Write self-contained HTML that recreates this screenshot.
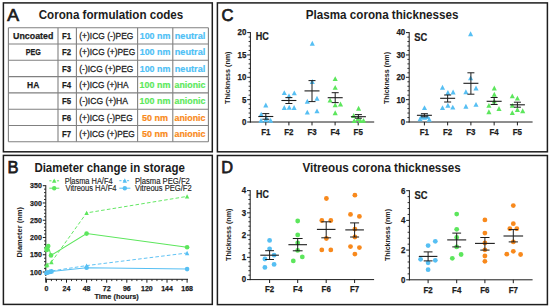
<!DOCTYPE html>
<html><head><meta charset="utf-8"><title>Figure</title>
<style>
html,body{margin:0;padding:0;background:#fff;}
body{width:550px;height:307px;overflow:hidden;}
svg{display:block;font-family:"Liberation Sans",sans-serif;}
</style></head>
<body>
<svg width="550" height="307" viewBox="0 0 550 307">
<rect x="0" y="0" width="550" height="307" fill="#ffffff"/>
<rect x="3.40" y="2.90" width="208.90" height="148.90" fill="none" stroke="#1e1e1e" stroke-width="1.5"/>
<rect x="217.40" y="2.90" width="330.00" height="148.90" fill="none" stroke="#1e1e1e" stroke-width="1.5"/>
<rect x="3.40" y="155.40" width="208.90" height="149.00" fill="none" stroke="#1e1e1e" stroke-width="1.5"/>
<rect x="217.40" y="155.50" width="330.00" height="149.10" fill="none" stroke="#1e1e1e" stroke-width="1.5"/>
<text x="7.20" y="20.80" font-size="16.8" font-weight="normal" text-anchor="start" fill="#1c1c1c" textLength="11.80" lengthAdjust="spacingAndGlyphs" stroke="#1c1c1c" stroke-width="0.7">A</text>
<text x="7.60" y="173.20" font-size="16.8" font-weight="normal" text-anchor="start" fill="#1c1c1c" textLength="11.00" lengthAdjust="spacingAndGlyphs" stroke="#1c1c1c" stroke-width="0.75">B</text>
<text x="221.40" y="20.60" font-size="16.8" font-weight="normal" text-anchor="start" fill="#1c1c1c" textLength="12.00" lengthAdjust="spacingAndGlyphs" stroke="#1c1c1c" stroke-width="0.75">C</text>
<text x="221.20" y="173.20" font-size="16.8" font-weight="normal" text-anchor="start" fill="#1c1c1c" textLength="11.80" lengthAdjust="spacingAndGlyphs" stroke="#1c1c1c" stroke-width="0.75">D</text>
<text x="38.70" y="19.00" font-size="12.3" font-weight="bold" text-anchor="start" fill="#1c1c1c" textLength="144.60" lengthAdjust="spacingAndGlyphs">Corona formulation codes</text>
<text x="305.80" y="18.60" font-size="12.3" font-weight="bold" text-anchor="start" fill="#1c1c1c" textLength="152.70" lengthAdjust="spacingAndGlyphs">Plasma corona thicknesses</text>
<text x="34.40" y="171.70" font-size="12.3" font-weight="bold" text-anchor="start" fill="#1c1c1c" textLength="150.40" lengthAdjust="spacingAndGlyphs">Diameter change in storage</text>
<text x="302.40" y="171.90" font-size="12.3" font-weight="bold" text-anchor="start" fill="#1c1c1c" textLength="158.40" lengthAdjust="spacingAndGlyphs">Vitreous corona thicknesses</text>
<line x1="8.40" y1="27.70" x2="208.40" y2="27.70" stroke="#808080" stroke-width="1.1"/>
<line x1="8.40" y1="44.00" x2="208.40" y2="44.00" stroke="#808080" stroke-width="1.1"/>
<line x1="8.40" y1="60.30" x2="208.40" y2="60.30" stroke="#808080" stroke-width="1.1"/>
<line x1="8.40" y1="76.60" x2="208.40" y2="76.60" stroke="#808080" stroke-width="1.1"/>
<line x1="8.40" y1="92.90" x2="208.40" y2="92.90" stroke="#808080" stroke-width="1.1"/>
<line x1="8.40" y1="109.20" x2="208.40" y2="109.20" stroke="#808080" stroke-width="1.1"/>
<line x1="8.40" y1="125.50" x2="208.40" y2="125.50" stroke="#808080" stroke-width="1.1"/>
<line x1="8.40" y1="141.80" x2="208.40" y2="141.80" stroke="#808080" stroke-width="1.1"/>
<line x1="8.40" y1="27.70" x2="8.40" y2="141.80" stroke="#808080" stroke-width="1.1"/>
<line x1="58.00" y1="27.70" x2="58.00" y2="141.80" stroke="#808080" stroke-width="1.1"/>
<line x1="76.40" y1="27.70" x2="76.40" y2="141.80" stroke="#808080" stroke-width="1.1"/>
<line x1="137.60" y1="27.70" x2="137.60" y2="141.80" stroke="#808080" stroke-width="1.1"/>
<line x1="172.80" y1="27.70" x2="172.80" y2="141.80" stroke="#808080" stroke-width="1.1"/>
<line x1="208.40" y1="27.70" x2="208.40" y2="141.80" stroke="#808080" stroke-width="1.1"/>
<text x="13.10" y="39.10" font-size="9.8" font-weight="bold" text-anchor="start" fill="#1c1c1c" textLength="40.20" lengthAdjust="spacingAndGlyphs" stroke="#1c1c1c" stroke-width="0.25">Uncoated</text>
<text x="62.00" y="39.10" font-size="9.8" font-weight="bold" text-anchor="start" fill="#1c1c1c" textLength="9.10" lengthAdjust="spacingAndGlyphs" stroke="#1c1c1c" stroke-width="0.25">F1</text>
<text x="79.30" y="39.10" font-size="9.8" font-weight="normal" text-anchor="start" fill="#1c1c1c" textLength="54.10" lengthAdjust="spacingAndGlyphs" stroke="#1c1c1c" stroke-width="0.3">(+)ICG (-)PEG</text>
<text x="139.70" y="39.10" font-size="9.8" font-weight="bold" text-anchor="start" fill="#4ec1f6" textLength="30.60" lengthAdjust="spacingAndGlyphs" stroke="#4ec1f6" stroke-width="0.2">100 nm</text>
<text x="174.70" y="39.10" font-size="9.8" font-weight="bold" text-anchor="start" fill="#4ec1f6" textLength="30.60" lengthAdjust="spacingAndGlyphs" stroke="#4ec1f6" stroke-width="0.2">neutral</text>
<text x="25.65" y="55.40" font-size="9.8" font-weight="bold" text-anchor="start" fill="#1c1c1c" textLength="15.10" lengthAdjust="spacingAndGlyphs" stroke="#1c1c1c" stroke-width="0.25">PEG</text>
<text x="62.00" y="55.40" font-size="9.8" font-weight="bold" text-anchor="start" fill="#1c1c1c" textLength="9.10" lengthAdjust="spacingAndGlyphs" stroke="#1c1c1c" stroke-width="0.25">F2</text>
<text x="79.30" y="55.40" font-size="9.8" font-weight="normal" text-anchor="start" fill="#1c1c1c" textLength="55.90" lengthAdjust="spacingAndGlyphs" stroke="#1c1c1c" stroke-width="0.3">(+)ICG (+)PEG</text>
<text x="139.70" y="55.40" font-size="9.8" font-weight="bold" text-anchor="start" fill="#4ec1f6" textLength="30.60" lengthAdjust="spacingAndGlyphs" stroke="#4ec1f6" stroke-width="0.2">100 nm</text>
<text x="174.70" y="55.40" font-size="9.8" font-weight="bold" text-anchor="start" fill="#4ec1f6" textLength="30.60" lengthAdjust="spacingAndGlyphs" stroke="#4ec1f6" stroke-width="0.2">neutral</text>
<text x="62.00" y="71.70" font-size="9.8" font-weight="bold" text-anchor="start" fill="#1c1c1c" textLength="9.10" lengthAdjust="spacingAndGlyphs" stroke="#1c1c1c" stroke-width="0.25">F3</text>
<text x="79.30" y="71.70" font-size="9.8" font-weight="normal" text-anchor="start" fill="#1c1c1c" textLength="54.10" lengthAdjust="spacingAndGlyphs" stroke="#1c1c1c" stroke-width="0.3">(-)ICG (+)PEG</text>
<text x="139.70" y="71.70" font-size="9.8" font-weight="bold" text-anchor="start" fill="#4ec1f6" textLength="30.60" lengthAdjust="spacingAndGlyphs" stroke="#4ec1f6" stroke-width="0.2">100 nm</text>
<text x="174.70" y="71.70" font-size="9.8" font-weight="bold" text-anchor="start" fill="#4ec1f6" textLength="30.60" lengthAdjust="spacingAndGlyphs" stroke="#4ec1f6" stroke-width="0.2">neutral</text>
<text x="27.10" y="88.00" font-size="9.8" font-weight="bold" text-anchor="start" fill="#1c1c1c" textLength="12.20" lengthAdjust="spacingAndGlyphs" stroke="#1c1c1c" stroke-width="0.25">HA</text>
<text x="62.00" y="88.00" font-size="9.8" font-weight="bold" text-anchor="start" fill="#1c1c1c" textLength="9.10" lengthAdjust="spacingAndGlyphs" stroke="#1c1c1c" stroke-width="0.25">F4</text>
<text x="79.30" y="88.00" font-size="9.8" font-weight="normal" text-anchor="start" fill="#1c1c1c" textLength="49.30" lengthAdjust="spacingAndGlyphs" stroke="#1c1c1c" stroke-width="0.3">(+)ICG (+)HA</text>
<text x="139.60" y="88.00" font-size="9.8" font-weight="bold" text-anchor="start" fill="#5ce95c" textLength="30.80" lengthAdjust="spacingAndGlyphs" stroke="#5ce95c" stroke-width="0.2">100 nm</text>
<text x="174.60" y="88.00" font-size="9.8" font-weight="bold" text-anchor="start" fill="#5ce95c" textLength="30.80" lengthAdjust="spacingAndGlyphs" stroke="#5ce95c" stroke-width="0.2">anionic</text>
<text x="62.00" y="104.30" font-size="9.8" font-weight="bold" text-anchor="start" fill="#1c1c1c" textLength="9.10" lengthAdjust="spacingAndGlyphs" stroke="#1c1c1c" stroke-width="0.25">F5</text>
<text x="79.30" y="104.30" font-size="9.8" font-weight="normal" text-anchor="start" fill="#1c1c1c" textLength="48.70" lengthAdjust="spacingAndGlyphs" stroke="#1c1c1c" stroke-width="0.3">(-)ICG (+)HA</text>
<text x="139.60" y="104.30" font-size="9.8" font-weight="bold" text-anchor="start" fill="#5ce95c" textLength="30.80" lengthAdjust="spacingAndGlyphs" stroke="#5ce95c" stroke-width="0.2">100 nm</text>
<text x="174.60" y="104.30" font-size="9.8" font-weight="bold" text-anchor="start" fill="#5ce95c" textLength="30.80" lengthAdjust="spacingAndGlyphs" stroke="#5ce95c" stroke-width="0.2">anionic</text>
<text x="62.00" y="120.60" font-size="9.8" font-weight="bold" text-anchor="start" fill="#1c1c1c" textLength="9.10" lengthAdjust="spacingAndGlyphs" stroke="#1c1c1c" stroke-width="0.25">F6</text>
<text x="79.30" y="120.60" font-size="9.8" font-weight="normal" text-anchor="start" fill="#1c1c1c" textLength="53.30" lengthAdjust="spacingAndGlyphs" stroke="#1c1c1c" stroke-width="0.3">(+)ICG (-)PEG</text>
<text x="141.95" y="120.60" font-size="9.8" font-weight="bold" text-anchor="start" fill="#f98a1a" textLength="26.10" lengthAdjust="spacingAndGlyphs" stroke="#f98a1a" stroke-width="0.2">50 nm</text>
<text x="174.50" y="120.60" font-size="9.8" font-weight="bold" text-anchor="start" fill="#f98a1a" textLength="31.00" lengthAdjust="spacingAndGlyphs" stroke="#f98a1a" stroke-width="0.2">anionic</text>
<text x="62.00" y="136.90" font-size="9.8" font-weight="bold" text-anchor="start" fill="#1c1c1c" textLength="9.10" lengthAdjust="spacingAndGlyphs" stroke="#1c1c1c" stroke-width="0.25">F7</text>
<text x="79.30" y="136.90" font-size="9.8" font-weight="normal" text-anchor="start" fill="#1c1c1c" textLength="55.40" lengthAdjust="spacingAndGlyphs" stroke="#1c1c1c" stroke-width="0.3">(+)ICG (+)PEG</text>
<text x="141.95" y="136.90" font-size="9.8" font-weight="bold" text-anchor="start" fill="#f98a1a" textLength="26.10" lengthAdjust="spacingAndGlyphs" stroke="#f98a1a" stroke-width="0.2">50 nm</text>
<text x="174.50" y="136.90" font-size="9.8" font-weight="bold" text-anchor="start" fill="#f98a1a" textLength="31.00" lengthAdjust="spacingAndGlyphs" stroke="#f98a1a" stroke-width="0.2">anionic</text>
<line x1="250.40" y1="32.10" x2="250.40" y2="122.50" stroke="#1c1c1c" stroke-width="1.0"/>
<line x1="247.20" y1="122.00" x2="250.40" y2="122.00" stroke="#1c1c1c" stroke-width="1.0"/>
<text x="246.40" y="124.85" font-size="8.37" font-weight="bold" text-anchor="end" fill="#1c1c1c" textLength="4.39" lengthAdjust="spacingAndGlyphs" stroke="#1c1c1c" stroke-width="0.25">0</text>
<line x1="248.60" y1="117.53" x2="250.40" y2="117.53" stroke="#1c1c1c" stroke-width="0.9"/>
<line x1="248.60" y1="113.06" x2="250.40" y2="113.06" stroke="#1c1c1c" stroke-width="0.9"/>
<line x1="248.60" y1="108.59" x2="250.40" y2="108.59" stroke="#1c1c1c" stroke-width="0.9"/>
<line x1="248.60" y1="104.12" x2="250.40" y2="104.12" stroke="#1c1c1c" stroke-width="0.9"/>
<line x1="247.20" y1="99.65" x2="250.40" y2="99.65" stroke="#1c1c1c" stroke-width="1.0"/>
<text x="246.40" y="102.50" font-size="8.37" font-weight="bold" text-anchor="end" fill="#1c1c1c" textLength="4.39" lengthAdjust="spacingAndGlyphs" stroke="#1c1c1c" stroke-width="0.25">5</text>
<line x1="248.60" y1="95.18" x2="250.40" y2="95.18" stroke="#1c1c1c" stroke-width="0.9"/>
<line x1="248.60" y1="90.71" x2="250.40" y2="90.71" stroke="#1c1c1c" stroke-width="0.9"/>
<line x1="248.60" y1="86.24" x2="250.40" y2="86.24" stroke="#1c1c1c" stroke-width="0.9"/>
<line x1="248.60" y1="81.77" x2="250.40" y2="81.77" stroke="#1c1c1c" stroke-width="0.9"/>
<line x1="247.20" y1="77.30" x2="250.40" y2="77.30" stroke="#1c1c1c" stroke-width="1.0"/>
<text x="246.40" y="80.15" font-size="8.37" font-weight="bold" text-anchor="end" fill="#1c1c1c" textLength="8.79" lengthAdjust="spacingAndGlyphs" stroke="#1c1c1c" stroke-width="0.25">10</text>
<line x1="248.60" y1="72.83" x2="250.40" y2="72.83" stroke="#1c1c1c" stroke-width="0.9"/>
<line x1="248.60" y1="68.36" x2="250.40" y2="68.36" stroke="#1c1c1c" stroke-width="0.9"/>
<line x1="248.60" y1="63.89" x2="250.40" y2="63.89" stroke="#1c1c1c" stroke-width="0.9"/>
<line x1="248.60" y1="59.42" x2="250.40" y2="59.42" stroke="#1c1c1c" stroke-width="0.9"/>
<line x1="247.20" y1="54.95" x2="250.40" y2="54.95" stroke="#1c1c1c" stroke-width="1.0"/>
<text x="246.40" y="57.80" font-size="8.37" font-weight="bold" text-anchor="end" fill="#1c1c1c" textLength="8.79" lengthAdjust="spacingAndGlyphs" stroke="#1c1c1c" stroke-width="0.25">15</text>
<line x1="248.60" y1="50.48" x2="250.40" y2="50.48" stroke="#1c1c1c" stroke-width="0.9"/>
<line x1="248.60" y1="46.01" x2="250.40" y2="46.01" stroke="#1c1c1c" stroke-width="0.9"/>
<line x1="248.60" y1="41.54" x2="250.40" y2="41.54" stroke="#1c1c1c" stroke-width="0.9"/>
<line x1="248.60" y1="37.07" x2="250.40" y2="37.07" stroke="#1c1c1c" stroke-width="0.9"/>
<line x1="247.20" y1="32.60" x2="250.40" y2="32.60" stroke="#1c1c1c" stroke-width="1.0"/>
<text x="246.40" y="35.45" font-size="8.37" font-weight="bold" text-anchor="end" fill="#1c1c1c" textLength="8.79" lengthAdjust="spacingAndGlyphs" stroke="#1c1c1c" stroke-width="0.25">20</text>
<line x1="249.90" y1="122.00" x2="374.20" y2="122.00" stroke="#1c1c1c" stroke-width="1.0"/>
<line x1="265.80" y1="122.00" x2="265.80" y2="125.40" stroke="#1c1c1c" stroke-width="1.0"/>
<text x="265.80" y="134.70" font-size="8.53" font-weight="bold" text-anchor="middle" fill="#1c1c1c" textLength="9.22" lengthAdjust="spacingAndGlyphs" stroke="#1c1c1c" stroke-width="0.25">F1</text>
<line x1="288.90" y1="122.00" x2="288.90" y2="125.40" stroke="#1c1c1c" stroke-width="1.0"/>
<text x="288.90" y="134.70" font-size="8.53" font-weight="bold" text-anchor="middle" fill="#1c1c1c" textLength="9.22" lengthAdjust="spacingAndGlyphs" stroke="#1c1c1c" stroke-width="0.25">F2</text>
<line x1="312.00" y1="122.00" x2="312.00" y2="125.40" stroke="#1c1c1c" stroke-width="1.0"/>
<text x="312.00" y="134.70" font-size="8.53" font-weight="bold" text-anchor="middle" fill="#1c1c1c" textLength="9.22" lengthAdjust="spacingAndGlyphs" stroke="#1c1c1c" stroke-width="0.25">F3</text>
<line x1="335.10" y1="122.00" x2="335.10" y2="125.40" stroke="#1c1c1c" stroke-width="1.0"/>
<text x="335.10" y="134.70" font-size="8.53" font-weight="bold" text-anchor="middle" fill="#1c1c1c" textLength="9.22" lengthAdjust="spacingAndGlyphs" stroke="#1c1c1c" stroke-width="0.25">F4</text>
<line x1="358.20" y1="122.00" x2="358.20" y2="125.40" stroke="#1c1c1c" stroke-width="1.0"/>
<text x="358.20" y="134.70" font-size="8.53" font-weight="bold" text-anchor="middle" fill="#1c1c1c" textLength="9.22" lengthAdjust="spacingAndGlyphs" stroke="#1c1c1c" stroke-width="0.25">F5</text>
<text transform="translate(229.60,77.70) rotate(-90)" font-size="7.1" font-weight="bold" text-anchor="middle" fill="#1c1c1c" textLength="52.4" lengthAdjust="spacingAndGlyphs">Thickness (nm)</text>
<text x="255.80" y="40.00" font-size="10.0" font-weight="bold" text-anchor="start" fill="#1c1c1c" textLength="13.10" lengthAdjust="spacingAndGlyphs" stroke="#1c1c1c" stroke-width="0.2">HC</text>
<polygon points="263.25,107.47 268.35,107.47 265.80,102.53" fill="#56bff3"/>
<polygon points="258.65,116.67 263.75,116.67 261.20,111.73" fill="#56bff3"/>
<polygon points="258.45,122.77 263.55,122.77 261.00,117.83" fill="#56bff3"/>
<polygon points="263.25,122.27 268.35,122.27 265.80,117.33" fill="#56bff3"/>
<polygon points="268.05,122.77 273.15,122.77 270.60,117.83" fill="#56bff3"/>
<polygon points="263.95,120.47 269.05,120.47 266.50,115.53" fill="#56bff3"/>
<polygon points="281.75,95.07 286.85,95.07 284.30,90.13" fill="#56bff3"/>
<polygon points="291.75,95.37 296.85,95.37 294.30,90.43" fill="#56bff3"/>
<polygon points="286.45,98.17 291.55,98.17 289.00,93.23" fill="#56bff3"/>
<polygon points="281.75,109.97 286.85,109.97 284.30,105.03" fill="#56bff3"/>
<polygon points="286.65,109.67 291.75,109.67 289.20,104.73" fill="#56bff3"/>
<polygon points="291.55,109.97 296.65,109.97 294.10,105.03" fill="#56bff3"/>
<polygon points="309.75,45.67 314.85,45.67 312.30,40.73" fill="#56bff3"/>
<polygon points="309.75,83.97 314.85,83.97 312.30,79.03" fill="#56bff3"/>
<polygon points="304.75,103.67 309.85,103.67 307.30,98.73" fill="#56bff3"/>
<polygon points="314.45,100.67 319.55,100.67 317.00,95.73" fill="#56bff3"/>
<polygon points="304.75,114.57 309.85,114.57 307.30,109.63" fill="#56bff3"/>
<polygon points="314.45,113.37 319.55,113.37 317.00,108.43" fill="#56bff3"/>
<polygon points="332.65,81.07 337.75,81.07 335.20,76.13" fill="#5ce65c"/>
<polygon points="332.65,89.87 337.75,89.87 335.20,84.93" fill="#5ce65c"/>
<polygon points="327.55,102.57 332.65,102.57 330.10,97.63" fill="#5ce65c"/>
<polygon points="332.65,107.37 337.75,107.37 335.20,102.43" fill="#5ce65c"/>
<polygon points="337.95,106.47 343.05,106.47 340.50,101.53" fill="#5ce65c"/>
<polygon points="332.65,115.17 337.75,115.17 335.20,110.23" fill="#5ce65c"/>
<polygon points="356.05,110.67 361.15,110.67 358.60,105.73" fill="#5ce65c"/>
<polygon points="351.15,117.97 356.25,117.97 353.70,113.03" fill="#5ce65c"/>
<polygon points="351.65,123.07 356.75,123.07 354.20,118.13" fill="#5ce65c"/>
<polygon points="357.95,123.07 363.05,123.07 360.50,118.13" fill="#5ce65c"/>
<polygon points="360.95,122.87 366.05,122.87 363.50,117.93" fill="#5ce65c"/>
<polygon points="355.45,120.97 360.55,120.97 358.00,116.03" fill="#5ce65c"/>
<line x1="258.30" y1="116.50" x2="273.30" y2="116.50" stroke="#1c1c1c" stroke-width="1.1"/>
<line x1="265.80" y1="113.60" x2="265.80" y2="119.20" stroke="#1c1c1c" stroke-width="1.0"/>
<line x1="262.30" y1="113.60" x2="269.30" y2="113.60" stroke="#1c1c1c" stroke-width="1.0"/>
<line x1="262.30" y1="119.20" x2="269.30" y2="119.20" stroke="#1c1c1c" stroke-width="1.0"/>
<line x1="281.40" y1="100.50" x2="296.40" y2="100.50" stroke="#1c1c1c" stroke-width="1.1"/>
<line x1="288.90" y1="97.60" x2="288.90" y2="103.50" stroke="#1c1c1c" stroke-width="1.0"/>
<line x1="285.40" y1="97.60" x2="292.40" y2="97.60" stroke="#1c1c1c" stroke-width="1.0"/>
<line x1="285.40" y1="103.50" x2="292.40" y2="103.50" stroke="#1c1c1c" stroke-width="1.0"/>
<line x1="304.50" y1="90.90" x2="319.50" y2="90.90" stroke="#1c1c1c" stroke-width="1.1"/>
<line x1="312.00" y1="80.60" x2="312.00" y2="101.60" stroke="#1c1c1c" stroke-width="1.0"/>
<line x1="308.50" y1="80.60" x2="315.50" y2="80.60" stroke="#1c1c1c" stroke-width="1.0"/>
<line x1="308.50" y1="101.60" x2="315.50" y2="101.60" stroke="#1c1c1c" stroke-width="1.0"/>
<line x1="327.70" y1="97.70" x2="342.70" y2="97.70" stroke="#1c1c1c" stroke-width="1.1"/>
<line x1="335.20" y1="92.70" x2="335.20" y2="102.60" stroke="#1c1c1c" stroke-width="1.0"/>
<line x1="331.70" y1="92.70" x2="338.70" y2="92.70" stroke="#1c1c1c" stroke-width="1.0"/>
<line x1="331.70" y1="102.60" x2="338.70" y2="102.60" stroke="#1c1c1c" stroke-width="1.0"/>
<line x1="350.90" y1="116.70" x2="365.90" y2="116.70" stroke="#1c1c1c" stroke-width="1.1"/>
<line x1="358.40" y1="114.60" x2="358.40" y2="118.20" stroke="#1c1c1c" stroke-width="1.0"/>
<line x1="354.90" y1="114.60" x2="361.90" y2="114.60" stroke="#1c1c1c" stroke-width="1.0"/>
<line x1="354.90" y1="118.20" x2="361.90" y2="118.20" stroke="#1c1c1c" stroke-width="1.0"/>
<line x1="409.20" y1="32.10" x2="409.20" y2="122.50" stroke="#1c1c1c" stroke-width="1.0"/>
<line x1="406.00" y1="122.00" x2="409.20" y2="122.00" stroke="#1c1c1c" stroke-width="1.0"/>
<text x="405.20" y="124.85" font-size="8.37" font-weight="bold" text-anchor="end" fill="#1c1c1c" textLength="4.39" lengthAdjust="spacingAndGlyphs" stroke="#1c1c1c" stroke-width="0.25">0</text>
<line x1="407.40" y1="117.53" x2="409.20" y2="117.53" stroke="#1c1c1c" stroke-width="0.9"/>
<line x1="407.40" y1="113.06" x2="409.20" y2="113.06" stroke="#1c1c1c" stroke-width="0.9"/>
<line x1="407.40" y1="108.59" x2="409.20" y2="108.59" stroke="#1c1c1c" stroke-width="0.9"/>
<line x1="407.40" y1="104.12" x2="409.20" y2="104.12" stroke="#1c1c1c" stroke-width="0.9"/>
<line x1="406.00" y1="99.65" x2="409.20" y2="99.65" stroke="#1c1c1c" stroke-width="1.0"/>
<text x="405.20" y="102.50" font-size="8.37" font-weight="bold" text-anchor="end" fill="#1c1c1c" textLength="8.79" lengthAdjust="spacingAndGlyphs" stroke="#1c1c1c" stroke-width="0.25">10</text>
<line x1="407.40" y1="95.18" x2="409.20" y2="95.18" stroke="#1c1c1c" stroke-width="0.9"/>
<line x1="407.40" y1="90.71" x2="409.20" y2="90.71" stroke="#1c1c1c" stroke-width="0.9"/>
<line x1="407.40" y1="86.24" x2="409.20" y2="86.24" stroke="#1c1c1c" stroke-width="0.9"/>
<line x1="407.40" y1="81.77" x2="409.20" y2="81.77" stroke="#1c1c1c" stroke-width="0.9"/>
<line x1="406.00" y1="77.30" x2="409.20" y2="77.30" stroke="#1c1c1c" stroke-width="1.0"/>
<text x="405.20" y="80.15" font-size="8.37" font-weight="bold" text-anchor="end" fill="#1c1c1c" textLength="8.79" lengthAdjust="spacingAndGlyphs" stroke="#1c1c1c" stroke-width="0.25">20</text>
<line x1="407.40" y1="72.83" x2="409.20" y2="72.83" stroke="#1c1c1c" stroke-width="0.9"/>
<line x1="407.40" y1="68.36" x2="409.20" y2="68.36" stroke="#1c1c1c" stroke-width="0.9"/>
<line x1="407.40" y1="63.89" x2="409.20" y2="63.89" stroke="#1c1c1c" stroke-width="0.9"/>
<line x1="407.40" y1="59.42" x2="409.20" y2="59.42" stroke="#1c1c1c" stroke-width="0.9"/>
<line x1="406.00" y1="54.95" x2="409.20" y2="54.95" stroke="#1c1c1c" stroke-width="1.0"/>
<text x="405.20" y="57.80" font-size="8.37" font-weight="bold" text-anchor="end" fill="#1c1c1c" textLength="8.79" lengthAdjust="spacingAndGlyphs" stroke="#1c1c1c" stroke-width="0.25">30</text>
<line x1="407.40" y1="50.48" x2="409.20" y2="50.48" stroke="#1c1c1c" stroke-width="0.9"/>
<line x1="407.40" y1="46.01" x2="409.20" y2="46.01" stroke="#1c1c1c" stroke-width="0.9"/>
<line x1="407.40" y1="41.54" x2="409.20" y2="41.54" stroke="#1c1c1c" stroke-width="0.9"/>
<line x1="407.40" y1="37.07" x2="409.20" y2="37.07" stroke="#1c1c1c" stroke-width="0.9"/>
<line x1="406.00" y1="32.60" x2="409.20" y2="32.60" stroke="#1c1c1c" stroke-width="1.0"/>
<text x="405.20" y="35.45" font-size="8.37" font-weight="bold" text-anchor="end" fill="#1c1c1c" textLength="8.79" lengthAdjust="spacingAndGlyphs" stroke="#1c1c1c" stroke-width="0.25">40</text>
<line x1="408.70" y1="122.00" x2="532.60" y2="122.00" stroke="#1c1c1c" stroke-width="1.0"/>
<line x1="424.40" y1="122.00" x2="424.40" y2="125.40" stroke="#1c1c1c" stroke-width="1.0"/>
<text x="424.40" y="134.70" font-size="8.53" font-weight="bold" text-anchor="middle" fill="#1c1c1c" textLength="9.22" lengthAdjust="spacingAndGlyphs" stroke="#1c1c1c" stroke-width="0.25">F1</text>
<line x1="447.65" y1="122.00" x2="447.65" y2="125.40" stroke="#1c1c1c" stroke-width="1.0"/>
<text x="447.65" y="134.70" font-size="8.53" font-weight="bold" text-anchor="middle" fill="#1c1c1c" textLength="9.22" lengthAdjust="spacingAndGlyphs" stroke="#1c1c1c" stroke-width="0.25">F2</text>
<line x1="470.90" y1="122.00" x2="470.90" y2="125.40" stroke="#1c1c1c" stroke-width="1.0"/>
<text x="470.90" y="134.70" font-size="8.53" font-weight="bold" text-anchor="middle" fill="#1c1c1c" textLength="9.22" lengthAdjust="spacingAndGlyphs" stroke="#1c1c1c" stroke-width="0.25">F3</text>
<line x1="494.15" y1="122.00" x2="494.15" y2="125.40" stroke="#1c1c1c" stroke-width="1.0"/>
<text x="494.15" y="134.70" font-size="8.53" font-weight="bold" text-anchor="middle" fill="#1c1c1c" textLength="9.22" lengthAdjust="spacingAndGlyphs" stroke="#1c1c1c" stroke-width="0.25">F4</text>
<line x1="517.40" y1="122.00" x2="517.40" y2="125.40" stroke="#1c1c1c" stroke-width="1.0"/>
<text x="517.40" y="134.70" font-size="8.53" font-weight="bold" text-anchor="middle" fill="#1c1c1c" textLength="9.22" lengthAdjust="spacingAndGlyphs" stroke="#1c1c1c" stroke-width="0.25">F5</text>
<text transform="translate(389.30,78.00) rotate(-90)" font-size="7.1" font-weight="bold" text-anchor="middle" fill="#1c1c1c" textLength="52.0" lengthAdjust="spacingAndGlyphs">Thickness (nm)</text>
<text x="414.20" y="40.50" font-size="10.0" font-weight="bold" text-anchor="start" fill="#1c1c1c" textLength="13.00" lengthAdjust="spacingAndGlyphs" stroke="#1c1c1c" stroke-width="0.2">SC</text>
<polygon points="421.95,110.07 427.05,110.07 424.50,105.13" fill="#56bff3"/>
<polygon points="417.55,121.37 422.65,121.37 420.10,116.43" fill="#56bff3"/>
<polygon points="421.95,119.87 427.05,119.87 424.50,114.93" fill="#56bff3"/>
<polygon points="426.75,121.77 431.85,121.77 429.30,116.83" fill="#56bff3"/>
<polygon points="418.95,118.97 424.05,118.97 421.50,114.03" fill="#56bff3"/>
<polygon points="424.95,118.97 430.05,118.97 427.50,114.03" fill="#56bff3"/>
<polygon points="439.95,89.77 445.05,89.77 442.50,84.83" fill="#56bff3"/>
<polygon points="445.35,94.97 450.45,94.97 447.90,90.03" fill="#56bff3"/>
<polygon points="450.55,94.47 455.65,94.47 453.10,89.53" fill="#56bff3"/>
<polygon points="439.95,110.07 445.05,110.07 442.50,105.13" fill="#56bff3"/>
<polygon points="445.35,107.67 450.45,107.67 447.90,102.73" fill="#56bff3"/>
<polygon points="450.25,109.57 455.35,109.57 452.80,104.63" fill="#56bff3"/>
<polygon points="468.05,36.17 473.15,36.17 470.60,31.23" fill="#56bff3"/>
<polygon points="468.05,80.37 473.15,80.37 470.60,75.43" fill="#56bff3"/>
<polygon points="463.35,94.27 468.45,94.27 465.90,89.33" fill="#56bff3"/>
<polygon points="473.45,90.47 478.55,90.47 476.00,85.53" fill="#56bff3"/>
<polygon points="463.35,108.77 468.45,108.77 465.90,103.83" fill="#56bff3"/>
<polygon points="473.45,106.87 478.55,106.87 476.00,101.93" fill="#56bff3"/>
<polygon points="491.75,90.47 496.85,90.47 494.30,85.53" fill="#5ce65c"/>
<polygon points="491.75,96.77 496.85,96.77 494.30,91.83" fill="#5ce65c"/>
<polygon points="486.35,107.87 491.45,107.87 488.90,102.93" fill="#5ce65c"/>
<polygon points="496.45,110.97 501.55,110.97 499.00,106.03" fill="#5ce65c"/>
<polygon points="486.35,114.17 491.45,114.17 488.90,109.23" fill="#5ce65c"/>
<polygon points="491.75,103.47 496.85,103.47 494.30,98.53" fill="#5ce65c"/>
<polygon points="509.75,98.37 514.85,98.37 512.30,93.43" fill="#5ce65c"/>
<polygon points="514.85,100.57 519.95,100.57 517.40,95.63" fill="#5ce65c"/>
<polygon points="509.75,115.07 514.85,115.07 512.30,110.13" fill="#5ce65c"/>
<polygon points="514.85,111.97 519.95,111.97 517.40,107.03" fill="#5ce65c"/>
<polygon points="520.15,113.17 525.25,113.17 522.70,108.23" fill="#5ce65c"/>
<polygon points="509.75,107.87 514.85,107.87 512.30,102.93" fill="#5ce65c"/>
<line x1="416.90" y1="115.30" x2="431.90" y2="115.30" stroke="#1c1c1c" stroke-width="1.1"/>
<line x1="424.40" y1="113.70" x2="424.40" y2="116.80" stroke="#1c1c1c" stroke-width="1.0"/>
<line x1="420.90" y1="113.70" x2="427.90" y2="113.70" stroke="#1c1c1c" stroke-width="1.0"/>
<line x1="420.90" y1="116.80" x2="427.90" y2="116.80" stroke="#1c1c1c" stroke-width="1.0"/>
<line x1="440.15" y1="98.30" x2="455.15" y2="98.30" stroke="#1c1c1c" stroke-width="1.1"/>
<line x1="447.65" y1="95.00" x2="447.65" y2="102.00" stroke="#1c1c1c" stroke-width="1.0"/>
<line x1="444.15" y1="95.00" x2="451.15" y2="95.00" stroke="#1c1c1c" stroke-width="1.0"/>
<line x1="444.15" y1="102.00" x2="451.15" y2="102.00" stroke="#1c1c1c" stroke-width="1.0"/>
<line x1="463.40" y1="83.30" x2="478.40" y2="83.30" stroke="#1c1c1c" stroke-width="1.1"/>
<line x1="470.90" y1="72.80" x2="470.90" y2="94.20" stroke="#1c1c1c" stroke-width="1.0"/>
<line x1="467.40" y1="72.80" x2="474.40" y2="72.80" stroke="#1c1c1c" stroke-width="1.0"/>
<line x1="467.40" y1="94.20" x2="474.40" y2="94.20" stroke="#1c1c1c" stroke-width="1.0"/>
<line x1="486.65" y1="101.30" x2="501.65" y2="101.30" stroke="#1c1c1c" stroke-width="1.1"/>
<line x1="494.15" y1="97.50" x2="494.15" y2="104.50" stroke="#1c1c1c" stroke-width="1.0"/>
<line x1="490.65" y1="97.50" x2="497.65" y2="97.50" stroke="#1c1c1c" stroke-width="1.0"/>
<line x1="490.65" y1="104.50" x2="497.65" y2="104.50" stroke="#1c1c1c" stroke-width="1.0"/>
<line x1="509.90" y1="104.80" x2="524.90" y2="104.80" stroke="#1c1c1c" stroke-width="1.1"/>
<line x1="517.40" y1="102.20" x2="517.40" y2="107.20" stroke="#1c1c1c" stroke-width="1.0"/>
<line x1="513.90" y1="102.20" x2="520.90" y2="102.20" stroke="#1c1c1c" stroke-width="1.0"/>
<line x1="513.90" y1="107.20" x2="520.90" y2="107.20" stroke="#1c1c1c" stroke-width="1.0"/>
<line x1="250.20" y1="190.10" x2="250.20" y2="280.10" stroke="#1c1c1c" stroke-width="1.0"/>
<line x1="247.00" y1="279.60" x2="250.20" y2="279.60" stroke="#1c1c1c" stroke-width="1.0"/>
<text x="246.20" y="282.45" font-size="8.37" font-weight="bold" text-anchor="end" fill="#1c1c1c" textLength="4.39" lengthAdjust="spacingAndGlyphs" stroke="#1c1c1c" stroke-width="0.25">0</text>
<line x1="248.40" y1="275.15" x2="250.20" y2="275.15" stroke="#1c1c1c" stroke-width="0.9"/>
<line x1="248.40" y1="270.70" x2="250.20" y2="270.70" stroke="#1c1c1c" stroke-width="0.9"/>
<line x1="248.40" y1="266.25" x2="250.20" y2="266.25" stroke="#1c1c1c" stroke-width="0.9"/>
<line x1="248.40" y1="261.80" x2="250.20" y2="261.80" stroke="#1c1c1c" stroke-width="0.9"/>
<line x1="247.00" y1="257.35" x2="250.20" y2="257.35" stroke="#1c1c1c" stroke-width="1.0"/>
<text x="246.20" y="260.20" font-size="8.37" font-weight="bold" text-anchor="end" fill="#1c1c1c" textLength="4.39" lengthAdjust="spacingAndGlyphs" stroke="#1c1c1c" stroke-width="0.25">1</text>
<line x1="248.40" y1="252.90" x2="250.20" y2="252.90" stroke="#1c1c1c" stroke-width="0.9"/>
<line x1="248.40" y1="248.45" x2="250.20" y2="248.45" stroke="#1c1c1c" stroke-width="0.9"/>
<line x1="248.40" y1="244.00" x2="250.20" y2="244.00" stroke="#1c1c1c" stroke-width="0.9"/>
<line x1="248.40" y1="239.55" x2="250.20" y2="239.55" stroke="#1c1c1c" stroke-width="0.9"/>
<line x1="247.00" y1="235.10" x2="250.20" y2="235.10" stroke="#1c1c1c" stroke-width="1.0"/>
<text x="246.20" y="237.95" font-size="8.37" font-weight="bold" text-anchor="end" fill="#1c1c1c" textLength="4.39" lengthAdjust="spacingAndGlyphs" stroke="#1c1c1c" stroke-width="0.25">2</text>
<line x1="248.40" y1="230.65" x2="250.20" y2="230.65" stroke="#1c1c1c" stroke-width="0.9"/>
<line x1="248.40" y1="226.20" x2="250.20" y2="226.20" stroke="#1c1c1c" stroke-width="0.9"/>
<line x1="248.40" y1="221.75" x2="250.20" y2="221.75" stroke="#1c1c1c" stroke-width="0.9"/>
<line x1="248.40" y1="217.30" x2="250.20" y2="217.30" stroke="#1c1c1c" stroke-width="0.9"/>
<line x1="247.00" y1="212.85" x2="250.20" y2="212.85" stroke="#1c1c1c" stroke-width="1.0"/>
<text x="246.20" y="215.70" font-size="8.37" font-weight="bold" text-anchor="end" fill="#1c1c1c" textLength="4.39" lengthAdjust="spacingAndGlyphs" stroke="#1c1c1c" stroke-width="0.25">3</text>
<line x1="248.40" y1="208.40" x2="250.20" y2="208.40" stroke="#1c1c1c" stroke-width="0.9"/>
<line x1="248.40" y1="203.95" x2="250.20" y2="203.95" stroke="#1c1c1c" stroke-width="0.9"/>
<line x1="248.40" y1="199.50" x2="250.20" y2="199.50" stroke="#1c1c1c" stroke-width="0.9"/>
<line x1="248.40" y1="195.05" x2="250.20" y2="195.05" stroke="#1c1c1c" stroke-width="0.9"/>
<line x1="247.00" y1="190.60" x2="250.20" y2="190.60" stroke="#1c1c1c" stroke-width="1.0"/>
<text x="246.20" y="193.45" font-size="8.37" font-weight="bold" text-anchor="end" fill="#1c1c1c" textLength="4.39" lengthAdjust="spacingAndGlyphs" stroke="#1c1c1c" stroke-width="0.25">4</text>
<line x1="249.70" y1="279.60" x2="374.10" y2="279.60" stroke="#1c1c1c" stroke-width="1.0"/>
<line x1="269.60" y1="279.60" x2="269.60" y2="283.00" stroke="#1c1c1c" stroke-width="1.0"/>
<text x="269.60" y="292.30" font-size="8.53" font-weight="bold" text-anchor="middle" fill="#1c1c1c" textLength="9.22" lengthAdjust="spacingAndGlyphs" stroke="#1c1c1c" stroke-width="0.25">F2</text>
<line x1="297.70" y1="279.60" x2="297.70" y2="283.00" stroke="#1c1c1c" stroke-width="1.0"/>
<text x="297.70" y="292.30" font-size="8.53" font-weight="bold" text-anchor="middle" fill="#1c1c1c" textLength="9.22" lengthAdjust="spacingAndGlyphs" stroke="#1c1c1c" stroke-width="0.25">F4</text>
<line x1="326.20" y1="279.60" x2="326.20" y2="283.00" stroke="#1c1c1c" stroke-width="1.0"/>
<text x="326.20" y="292.30" font-size="8.53" font-weight="bold" text-anchor="middle" fill="#1c1c1c" textLength="9.22" lengthAdjust="spacingAndGlyphs" stroke="#1c1c1c" stroke-width="0.25">F6</text>
<line x1="354.60" y1="279.60" x2="354.60" y2="283.00" stroke="#1c1c1c" stroke-width="1.0"/>
<text x="354.60" y="292.30" font-size="8.53" font-weight="bold" text-anchor="middle" fill="#1c1c1c" textLength="9.22" lengthAdjust="spacingAndGlyphs" stroke="#1c1c1c" stroke-width="0.25">F7</text>
<text transform="translate(231.40,234.80) rotate(-90)" font-size="7.1" font-weight="bold" text-anchor="middle" fill="#1c1c1c" textLength="52.4" lengthAdjust="spacingAndGlyphs">Thickness (nm)</text>
<text x="256.10" y="197.70" font-size="10.0" font-weight="bold" text-anchor="start" fill="#1c1c1c" textLength="12.80" lengthAdjust="spacingAndGlyphs" stroke="#1c1c1c" stroke-width="0.2">HC</text>
<circle cx="269.60" cy="240.40" r="2.4" fill="#56bff3"/>
<circle cx="269.60" cy="248.80" r="2.4" fill="#56bff3"/>
<circle cx="264.90" cy="259.00" r="2.4" fill="#56bff3"/>
<circle cx="274.10" cy="255.20" r="2.4" fill="#56bff3"/>
<circle cx="274.10" cy="264.40" r="2.4" fill="#56bff3"/>
<circle cx="264.90" cy="267.40" r="2.4" fill="#56bff3"/>
<circle cx="297.70" cy="221.00" r="2.4" fill="#5ce65c"/>
<circle cx="297.70" cy="234.90" r="2.4" fill="#5ce65c"/>
<circle cx="297.70" cy="243.00" r="2.4" fill="#5ce65c"/>
<circle cx="297.70" cy="250.40" r="2.4" fill="#5ce65c"/>
<circle cx="302.30" cy="256.90" r="2.4" fill="#5ce65c"/>
<circle cx="293.30" cy="260.90" r="2.4" fill="#5ce65c"/>
<circle cx="326.40" cy="198.50" r="2.4" fill="#f8891c"/>
<circle cx="321.80" cy="220.50" r="2.4" fill="#f8891c"/>
<circle cx="330.80" cy="220.50" r="2.4" fill="#f8891c"/>
<circle cx="326.40" cy="238.50" r="2.4" fill="#f8891c"/>
<circle cx="321.80" cy="249.90" r="2.4" fill="#f8891c"/>
<circle cx="330.80" cy="249.90" r="2.4" fill="#f8891c"/>
<circle cx="354.90" cy="195.20" r="2.4" fill="#f8891c"/>
<circle cx="350.50" cy="214.40" r="2.4" fill="#f8891c"/>
<circle cx="359.40" cy="216.40" r="2.4" fill="#f8891c"/>
<circle cx="354.90" cy="229.10" r="2.4" fill="#f8891c"/>
<circle cx="354.90" cy="237.00" r="2.4" fill="#f8891c"/>
<circle cx="350.50" cy="246.60" r="2.4" fill="#f8891c"/>
<circle cx="359.40" cy="247.60" r="2.4" fill="#f8891c"/>
<circle cx="354.90" cy="254.10" r="2.4" fill="#f8891c"/>
<line x1="260.30" y1="255.20" x2="278.90" y2="255.20" stroke="#1c1c1c" stroke-width="1.1"/>
<line x1="269.60" y1="250.70" x2="269.60" y2="259.50" stroke="#1c1c1c" stroke-width="1.0"/>
<line x1="265.20" y1="250.70" x2="274.00" y2="250.70" stroke="#1c1c1c" stroke-width="1.0"/>
<line x1="265.20" y1="259.50" x2="274.00" y2="259.50" stroke="#1c1c1c" stroke-width="1.0"/>
<line x1="288.40" y1="244.70" x2="307.00" y2="244.70" stroke="#1c1c1c" stroke-width="1.1"/>
<line x1="297.70" y1="238.50" x2="297.70" y2="250.80" stroke="#1c1c1c" stroke-width="1.0"/>
<line x1="292.80" y1="238.50" x2="302.60" y2="238.50" stroke="#1c1c1c" stroke-width="1.0"/>
<line x1="292.80" y1="250.80" x2="302.60" y2="250.80" stroke="#1c1c1c" stroke-width="1.0"/>
<line x1="316.90" y1="229.40" x2="335.50" y2="229.40" stroke="#1c1c1c" stroke-width="1.1"/>
<line x1="326.20" y1="221.80" x2="326.20" y2="237.80" stroke="#1c1c1c" stroke-width="1.0"/>
<line x1="321.30" y1="221.80" x2="331.10" y2="221.80" stroke="#1c1c1c" stroke-width="1.0"/>
<line x1="321.30" y1="237.80" x2="331.10" y2="237.80" stroke="#1c1c1c" stroke-width="1.0"/>
<line x1="345.30" y1="229.90" x2="363.90" y2="229.90" stroke="#1c1c1c" stroke-width="1.1"/>
<line x1="354.60" y1="222.90" x2="354.60" y2="237.00" stroke="#1c1c1c" stroke-width="1.0"/>
<line x1="350.10" y1="222.90" x2="359.10" y2="222.90" stroke="#1c1c1c" stroke-width="1.0"/>
<line x1="350.10" y1="237.00" x2="359.10" y2="237.00" stroke="#1c1c1c" stroke-width="1.0"/>
<line x1="409.40" y1="190.20" x2="409.40" y2="280.30" stroke="#1c1c1c" stroke-width="1.0"/>
<line x1="406.20" y1="279.80" x2="409.40" y2="279.80" stroke="#1c1c1c" stroke-width="1.0"/>
<text x="405.40" y="282.65" font-size="8.37" font-weight="bold" text-anchor="end" fill="#1c1c1c" textLength="4.39" lengthAdjust="spacingAndGlyphs" stroke="#1c1c1c" stroke-width="0.25">0</text>
<line x1="407.60" y1="273.86" x2="409.40" y2="273.86" stroke="#1c1c1c" stroke-width="0.9"/>
<line x1="407.60" y1="267.92" x2="409.40" y2="267.92" stroke="#1c1c1c" stroke-width="0.9"/>
<line x1="407.60" y1="261.98" x2="409.40" y2="261.98" stroke="#1c1c1c" stroke-width="0.9"/>
<line x1="407.60" y1="256.04" x2="409.40" y2="256.04" stroke="#1c1c1c" stroke-width="0.9"/>
<line x1="406.20" y1="250.10" x2="409.40" y2="250.10" stroke="#1c1c1c" stroke-width="1.0"/>
<text x="405.40" y="252.95" font-size="8.37" font-weight="bold" text-anchor="end" fill="#1c1c1c" textLength="4.39" lengthAdjust="spacingAndGlyphs" stroke="#1c1c1c" stroke-width="0.25">2</text>
<line x1="407.60" y1="244.16" x2="409.40" y2="244.16" stroke="#1c1c1c" stroke-width="0.9"/>
<line x1="407.60" y1="238.22" x2="409.40" y2="238.22" stroke="#1c1c1c" stroke-width="0.9"/>
<line x1="407.60" y1="232.28" x2="409.40" y2="232.28" stroke="#1c1c1c" stroke-width="0.9"/>
<line x1="407.60" y1="226.34" x2="409.40" y2="226.34" stroke="#1c1c1c" stroke-width="0.9"/>
<line x1="406.20" y1="220.40" x2="409.40" y2="220.40" stroke="#1c1c1c" stroke-width="1.0"/>
<text x="405.40" y="223.25" font-size="8.37" font-weight="bold" text-anchor="end" fill="#1c1c1c" textLength="4.39" lengthAdjust="spacingAndGlyphs" stroke="#1c1c1c" stroke-width="0.25">4</text>
<line x1="407.60" y1="214.46" x2="409.40" y2="214.46" stroke="#1c1c1c" stroke-width="0.9"/>
<line x1="407.60" y1="208.52" x2="409.40" y2="208.52" stroke="#1c1c1c" stroke-width="0.9"/>
<line x1="407.60" y1="202.58" x2="409.40" y2="202.58" stroke="#1c1c1c" stroke-width="0.9"/>
<line x1="407.60" y1="196.64" x2="409.40" y2="196.64" stroke="#1c1c1c" stroke-width="0.9"/>
<line x1="406.20" y1="190.70" x2="409.40" y2="190.70" stroke="#1c1c1c" stroke-width="1.0"/>
<text x="405.40" y="193.55" font-size="8.37" font-weight="bold" text-anchor="end" fill="#1c1c1c" textLength="4.39" lengthAdjust="spacingAndGlyphs" stroke="#1c1c1c" stroke-width="0.25">6</text>
<line x1="408.90" y1="279.80" x2="532.60" y2="279.80" stroke="#1c1c1c" stroke-width="1.0"/>
<line x1="428.10" y1="279.80" x2="428.10" y2="283.20" stroke="#1c1c1c" stroke-width="1.0"/>
<text x="428.10" y="292.50" font-size="8.53" font-weight="bold" text-anchor="middle" fill="#1c1c1c" textLength="9.22" lengthAdjust="spacingAndGlyphs" stroke="#1c1c1c" stroke-width="0.25">F2</text>
<line x1="456.70" y1="279.80" x2="456.70" y2="283.20" stroke="#1c1c1c" stroke-width="1.0"/>
<text x="456.70" y="292.50" font-size="8.53" font-weight="bold" text-anchor="middle" fill="#1c1c1c" textLength="9.22" lengthAdjust="spacingAndGlyphs" stroke="#1c1c1c" stroke-width="0.25">F4</text>
<line x1="484.90" y1="279.80" x2="484.90" y2="283.20" stroke="#1c1c1c" stroke-width="1.0"/>
<text x="484.90" y="292.50" font-size="8.53" font-weight="bold" text-anchor="middle" fill="#1c1c1c" textLength="9.22" lengthAdjust="spacingAndGlyphs" stroke="#1c1c1c" stroke-width="0.25">F6</text>
<line x1="513.30" y1="279.80" x2="513.30" y2="283.20" stroke="#1c1c1c" stroke-width="1.0"/>
<text x="513.30" y="292.50" font-size="8.53" font-weight="bold" text-anchor="middle" fill="#1c1c1c" textLength="9.22" lengthAdjust="spacingAndGlyphs" stroke="#1c1c1c" stroke-width="0.25">F7</text>
<text transform="translate(389.60,235.00) rotate(-90)" font-size="7.1" font-weight="bold" text-anchor="middle" fill="#1c1c1c" textLength="52.0" lengthAdjust="spacingAndGlyphs">Thickness (nm)</text>
<text x="414.40" y="198.80" font-size="10.0" font-weight="bold" text-anchor="start" fill="#1c1c1c" textLength="13.00" lengthAdjust="spacingAndGlyphs" stroke="#1c1c1c" stroke-width="0.2">SC</text>
<circle cx="435.30" cy="241.30" r="2.4" fill="#56bff3"/>
<circle cx="428.10" cy="245.60" r="2.4" fill="#56bff3"/>
<circle cx="420.60" cy="259.30" r="2.4" fill="#56bff3"/>
<circle cx="435.30" cy="260.30" r="2.4" fill="#56bff3"/>
<circle cx="428.10" cy="262.80" r="2.4" fill="#56bff3"/>
<circle cx="428.10" cy="269.70" r="2.4" fill="#56bff3"/>
<circle cx="456.70" cy="214.10" r="2.4" fill="#5ce65c"/>
<circle cx="456.70" cy="229.30" r="2.4" fill="#5ce65c"/>
<circle cx="456.70" cy="237.50" r="2.4" fill="#5ce65c"/>
<circle cx="456.70" cy="246.90" r="2.4" fill="#5ce65c"/>
<circle cx="461.10" cy="254.50" r="2.4" fill="#5ce65c"/>
<circle cx="452.30" cy="258.30" r="2.4" fill="#5ce65c"/>
<circle cx="484.90" cy="219.90" r="2.4" fill="#f8891c"/>
<circle cx="484.90" cy="233.10" r="2.4" fill="#f8891c"/>
<circle cx="484.90" cy="243.00" r="2.4" fill="#f8891c"/>
<circle cx="484.90" cy="249.80" r="2.4" fill="#f8891c"/>
<circle cx="484.90" cy="256.00" r="2.4" fill="#f8891c"/>
<circle cx="484.90" cy="261.30" r="2.4" fill="#f8891c"/>
<circle cx="513.30" cy="205.60" r="2.4" fill="#f8891c"/>
<circle cx="513.30" cy="223.70" r="2.4" fill="#f8891c"/>
<circle cx="509.80" cy="228.70" r="2.4" fill="#f8891c"/>
<circle cx="516.80" cy="228.70" r="2.4" fill="#f8891c"/>
<circle cx="513.30" cy="241.90" r="2.4" fill="#f8891c"/>
<circle cx="506.80" cy="254.20" r="2.4" fill="#f8891c"/>
<circle cx="513.30" cy="251.30" r="2.4" fill="#f8891c"/>
<circle cx="520.60" cy="254.50" r="2.4" fill="#f8891c"/>
<line x1="418.80" y1="256.40" x2="437.40" y2="256.40" stroke="#1c1c1c" stroke-width="1.1"/>
<line x1="428.10" y1="251.90" x2="428.10" y2="260.90" stroke="#1c1c1c" stroke-width="1.0"/>
<line x1="423.70" y1="251.90" x2="432.50" y2="251.90" stroke="#1c1c1c" stroke-width="1.0"/>
<line x1="423.70" y1="260.90" x2="432.50" y2="260.90" stroke="#1c1c1c" stroke-width="1.0"/>
<line x1="447.20" y1="239.90" x2="466.20" y2="239.90" stroke="#1c1c1c" stroke-width="1.1"/>
<line x1="456.70" y1="233.10" x2="456.70" y2="246.90" stroke="#1c1c1c" stroke-width="1.0"/>
<line x1="452.30" y1="233.10" x2="461.10" y2="233.10" stroke="#1c1c1c" stroke-width="1.0"/>
<line x1="452.30" y1="246.90" x2="461.10" y2="246.90" stroke="#1c1c1c" stroke-width="1.0"/>
<line x1="475.00" y1="243.40" x2="494.80" y2="243.40" stroke="#1c1c1c" stroke-width="1.1"/>
<line x1="484.90" y1="237.50" x2="484.90" y2="250.10" stroke="#1c1c1c" stroke-width="1.0"/>
<line x1="480.30" y1="237.50" x2="489.50" y2="237.50" stroke="#1c1c1c" stroke-width="1.0"/>
<line x1="480.30" y1="250.10" x2="489.50" y2="250.10" stroke="#1c1c1c" stroke-width="1.0"/>
<line x1="503.50" y1="236.00" x2="523.10" y2="236.00" stroke="#1c1c1c" stroke-width="1.1"/>
<line x1="513.30" y1="229.60" x2="513.30" y2="241.90" stroke="#1c1c1c" stroke-width="1.0"/>
<line x1="508.70" y1="229.60" x2="517.90" y2="229.60" stroke="#1c1c1c" stroke-width="1.0"/>
<line x1="508.70" y1="241.90" x2="517.90" y2="241.90" stroke="#1c1c1c" stroke-width="1.0"/>
<line x1="45.80" y1="185.20" x2="45.80" y2="276.00" stroke="#1c1c1c" stroke-width="1.0"/>
<line x1="45.80" y1="277.40" x2="45.80" y2="282.60" stroke="#1c1c1c" stroke-width="1.0"/>
<line x1="42.80" y1="272.00" x2="45.80" y2="272.00" stroke="#1c1c1c" stroke-width="1.0"/>
<text x="41.80" y="274.60" font-size="7.42" font-weight="bold" text-anchor="end" fill="#1c1c1c" textLength="11.68" lengthAdjust="spacingAndGlyphs" stroke="#1c1c1c" stroke-width="0.25">100</text>
<line x1="44.00" y1="268.55" x2="45.80" y2="268.55" stroke="#1c1c1c" stroke-width="0.9"/>
<line x1="44.00" y1="265.10" x2="45.80" y2="265.10" stroke="#1c1c1c" stroke-width="0.9"/>
<line x1="44.00" y1="261.64" x2="45.80" y2="261.64" stroke="#1c1c1c" stroke-width="0.9"/>
<line x1="44.00" y1="258.19" x2="45.80" y2="258.19" stroke="#1c1c1c" stroke-width="0.9"/>
<line x1="42.80" y1="254.74" x2="45.80" y2="254.74" stroke="#1c1c1c" stroke-width="1.0"/>
<text x="41.80" y="257.34" font-size="7.42" font-weight="bold" text-anchor="end" fill="#1c1c1c" textLength="11.68" lengthAdjust="spacingAndGlyphs" stroke="#1c1c1c" stroke-width="0.25">150</text>
<line x1="44.00" y1="251.29" x2="45.80" y2="251.29" stroke="#1c1c1c" stroke-width="0.9"/>
<line x1="44.00" y1="247.84" x2="45.80" y2="247.84" stroke="#1c1c1c" stroke-width="0.9"/>
<line x1="44.00" y1="244.38" x2="45.80" y2="244.38" stroke="#1c1c1c" stroke-width="0.9"/>
<line x1="44.00" y1="240.93" x2="45.80" y2="240.93" stroke="#1c1c1c" stroke-width="0.9"/>
<line x1="42.80" y1="237.48" x2="45.80" y2="237.48" stroke="#1c1c1c" stroke-width="1.0"/>
<text x="41.80" y="240.08" font-size="7.42" font-weight="bold" text-anchor="end" fill="#1c1c1c" textLength="11.68" lengthAdjust="spacingAndGlyphs" stroke="#1c1c1c" stroke-width="0.25">200</text>
<line x1="44.00" y1="234.03" x2="45.80" y2="234.03" stroke="#1c1c1c" stroke-width="0.9"/>
<line x1="44.00" y1="230.58" x2="45.80" y2="230.58" stroke="#1c1c1c" stroke-width="0.9"/>
<line x1="44.00" y1="227.12" x2="45.80" y2="227.12" stroke="#1c1c1c" stroke-width="0.9"/>
<line x1="44.00" y1="223.67" x2="45.80" y2="223.67" stroke="#1c1c1c" stroke-width="0.9"/>
<line x1="42.80" y1="220.22" x2="45.80" y2="220.22" stroke="#1c1c1c" stroke-width="1.0"/>
<text x="41.80" y="222.82" font-size="7.42" font-weight="bold" text-anchor="end" fill="#1c1c1c" textLength="11.68" lengthAdjust="spacingAndGlyphs" stroke="#1c1c1c" stroke-width="0.25">250</text>
<line x1="44.00" y1="216.77" x2="45.80" y2="216.77" stroke="#1c1c1c" stroke-width="0.9"/>
<line x1="44.00" y1="213.32" x2="45.80" y2="213.32" stroke="#1c1c1c" stroke-width="0.9"/>
<line x1="44.00" y1="209.86" x2="45.80" y2="209.86" stroke="#1c1c1c" stroke-width="0.9"/>
<line x1="44.00" y1="206.41" x2="45.80" y2="206.41" stroke="#1c1c1c" stroke-width="0.9"/>
<line x1="42.80" y1="202.96" x2="45.80" y2="202.96" stroke="#1c1c1c" stroke-width="1.0"/>
<text x="41.80" y="205.56" font-size="7.42" font-weight="bold" text-anchor="end" fill="#1c1c1c" textLength="11.68" lengthAdjust="spacingAndGlyphs" stroke="#1c1c1c" stroke-width="0.25">300</text>
<line x1="44.00" y1="199.51" x2="45.80" y2="199.51" stroke="#1c1c1c" stroke-width="0.9"/>
<line x1="44.00" y1="196.06" x2="45.80" y2="196.06" stroke="#1c1c1c" stroke-width="0.9"/>
<line x1="44.00" y1="192.60" x2="45.80" y2="192.60" stroke="#1c1c1c" stroke-width="0.9"/>
<line x1="44.00" y1="189.15" x2="45.80" y2="189.15" stroke="#1c1c1c" stroke-width="0.9"/>
<line x1="42.80" y1="185.70" x2="45.80" y2="185.70" stroke="#1c1c1c" stroke-width="1.0"/>
<text x="41.80" y="188.30" font-size="7.42" font-weight="bold" text-anchor="end" fill="#1c1c1c" textLength="11.68" lengthAdjust="spacingAndGlyphs" stroke="#1c1c1c" stroke-width="0.25">350</text>
<line x1="45.30" y1="279.30" x2="188.00" y2="279.30" stroke="#1c1c1c" stroke-width="1.0"/>
<line x1="46.40" y1="279.30" x2="46.40" y2="282.70" stroke="#1c1c1c" stroke-width="1.0"/>
<text x="46.40" y="290.50" font-size="7.42" font-weight="bold" text-anchor="middle" fill="#1c1c1c" textLength="3.89" lengthAdjust="spacingAndGlyphs" stroke="#1c1c1c" stroke-width="0.25">0</text>
<line x1="51.42" y1="279.30" x2="51.42" y2="281.10" stroke="#1c1c1c" stroke-width="0.9"/>
<line x1="56.45" y1="279.30" x2="56.45" y2="281.10" stroke="#1c1c1c" stroke-width="0.9"/>
<line x1="61.48" y1="279.30" x2="61.48" y2="281.10" stroke="#1c1c1c" stroke-width="0.9"/>
<line x1="66.50" y1="279.30" x2="66.50" y2="282.70" stroke="#1c1c1c" stroke-width="1.0"/>
<text x="66.50" y="290.50" font-size="7.42" font-weight="bold" text-anchor="middle" fill="#1c1c1c" textLength="7.79" lengthAdjust="spacingAndGlyphs" stroke="#1c1c1c" stroke-width="0.25">24</text>
<line x1="71.53" y1="279.30" x2="71.53" y2="281.10" stroke="#1c1c1c" stroke-width="0.9"/>
<line x1="76.55" y1="279.30" x2="76.55" y2="281.10" stroke="#1c1c1c" stroke-width="0.9"/>
<line x1="81.58" y1="279.30" x2="81.58" y2="281.10" stroke="#1c1c1c" stroke-width="0.9"/>
<line x1="86.60" y1="279.30" x2="86.60" y2="282.70" stroke="#1c1c1c" stroke-width="1.0"/>
<text x="86.60" y="290.50" font-size="7.42" font-weight="bold" text-anchor="middle" fill="#1c1c1c" textLength="7.79" lengthAdjust="spacingAndGlyphs" stroke="#1c1c1c" stroke-width="0.25">48</text>
<line x1="91.62" y1="279.30" x2="91.62" y2="281.10" stroke="#1c1c1c" stroke-width="0.9"/>
<line x1="96.65" y1="279.30" x2="96.65" y2="281.10" stroke="#1c1c1c" stroke-width="0.9"/>
<line x1="101.68" y1="279.30" x2="101.68" y2="281.10" stroke="#1c1c1c" stroke-width="0.9"/>
<line x1="106.70" y1="279.30" x2="106.70" y2="282.70" stroke="#1c1c1c" stroke-width="1.0"/>
<text x="106.70" y="290.50" font-size="7.42" font-weight="bold" text-anchor="middle" fill="#1c1c1c" textLength="7.79" lengthAdjust="spacingAndGlyphs" stroke="#1c1c1c" stroke-width="0.25">72</text>
<line x1="111.72" y1="279.30" x2="111.72" y2="281.10" stroke="#1c1c1c" stroke-width="0.9"/>
<line x1="116.75" y1="279.30" x2="116.75" y2="281.10" stroke="#1c1c1c" stroke-width="0.9"/>
<line x1="121.78" y1="279.30" x2="121.78" y2="281.10" stroke="#1c1c1c" stroke-width="0.9"/>
<line x1="126.80" y1="279.30" x2="126.80" y2="282.70" stroke="#1c1c1c" stroke-width="1.0"/>
<text x="126.80" y="290.50" font-size="7.42" font-weight="bold" text-anchor="middle" fill="#1c1c1c" textLength="7.79" lengthAdjust="spacingAndGlyphs" stroke="#1c1c1c" stroke-width="0.25">96</text>
<line x1="131.83" y1="279.30" x2="131.83" y2="281.10" stroke="#1c1c1c" stroke-width="0.9"/>
<line x1="136.85" y1="279.30" x2="136.85" y2="281.10" stroke="#1c1c1c" stroke-width="0.9"/>
<line x1="141.88" y1="279.30" x2="141.88" y2="281.10" stroke="#1c1c1c" stroke-width="0.9"/>
<line x1="146.90" y1="279.30" x2="146.90" y2="282.70" stroke="#1c1c1c" stroke-width="1.0"/>
<text x="146.90" y="290.50" font-size="7.42" font-weight="bold" text-anchor="middle" fill="#1c1c1c" textLength="11.68" lengthAdjust="spacingAndGlyphs" stroke="#1c1c1c" stroke-width="0.25">120</text>
<line x1="151.93" y1="279.30" x2="151.93" y2="281.10" stroke="#1c1c1c" stroke-width="0.9"/>
<line x1="156.95" y1="279.30" x2="156.95" y2="281.10" stroke="#1c1c1c" stroke-width="0.9"/>
<line x1="161.97" y1="279.30" x2="161.97" y2="281.10" stroke="#1c1c1c" stroke-width="0.9"/>
<line x1="167.00" y1="279.30" x2="167.00" y2="282.70" stroke="#1c1c1c" stroke-width="1.0"/>
<text x="167.00" y="290.50" font-size="7.42" font-weight="bold" text-anchor="middle" fill="#1c1c1c" textLength="11.68" lengthAdjust="spacingAndGlyphs" stroke="#1c1c1c" stroke-width="0.25">144</text>
<line x1="172.03" y1="279.30" x2="172.03" y2="281.10" stroke="#1c1c1c" stroke-width="0.9"/>
<line x1="177.05" y1="279.30" x2="177.05" y2="281.10" stroke="#1c1c1c" stroke-width="0.9"/>
<line x1="182.08" y1="279.30" x2="182.08" y2="281.10" stroke="#1c1c1c" stroke-width="0.9"/>
<line x1="187.10" y1="279.30" x2="187.10" y2="282.70" stroke="#1c1c1c" stroke-width="1.0"/>
<text x="187.10" y="290.50" font-size="7.42" font-weight="bold" text-anchor="middle" fill="#1c1c1c" textLength="11.68" lengthAdjust="spacingAndGlyphs" stroke="#1c1c1c" stroke-width="0.25">168</text>
<text x="94.40" y="298.90" font-size="7.8" font-weight="bold" text-anchor="start" fill="#1c1c1c" textLength="44.40" lengthAdjust="spacingAndGlyphs" stroke="#1c1c1c" stroke-width="0.2">Time (hours)</text>
<text transform="translate(21.70,232.30) rotate(-90)" font-size="7.5" font-weight="bold" text-anchor="middle" fill="#1c1c1c" textLength="50.6" lengthAdjust="spacingAndGlyphs">Diameter (nm)</text>
<line x1="49.30" y1="180.80" x2="59.30" y2="180.80" stroke="#5ce65c" stroke-width="1.0" stroke-dasharray="2.2 1.6"/>
<polygon points="52.00,182.73 56.40,182.73 54.20,178.47" fill="#5ce65c"/>
<text x="64.70" y="183.50" font-size="8.3" font-weight="normal" text-anchor="start" fill="#1c1c1c" textLength="47.90" lengthAdjust="spacingAndGlyphs" stroke="#1c1c1c" stroke-width="0.15">Plasma HA/F4</text>
<line x1="49.30" y1="188.20" x2="59.30" y2="188.20" stroke="#5ce65c" stroke-width="1.0"/>
<circle cx="54.20" cy="188.20" r="2.2" fill="#5ce65c"/>
<text x="65.50" y="191.20" font-size="8.3" font-weight="normal" text-anchor="start" fill="#1c1c1c" textLength="51.00" lengthAdjust="spacingAndGlyphs" stroke="#1c1c1c" stroke-width="0.15">Vitreous HA/F4</text>
<line x1="119.30" y1="180.70" x2="130.40" y2="180.70" stroke="#56bff3" stroke-width="1.0" stroke-dasharray="2.2 1.6"/>
<polygon points="122.60,182.63 127.00,182.63 124.80,178.37" fill="#56bff3"/>
<text x="135.00" y="183.50" font-size="8.3" font-weight="normal" text-anchor="start" fill="#1c1c1c" textLength="54.80" lengthAdjust="spacingAndGlyphs" stroke="#1c1c1c" stroke-width="0.15">Plasma PEG/F2</text>
<line x1="119.30" y1="188.20" x2="130.40" y2="188.20" stroke="#56bff3" stroke-width="1.0"/>
<circle cx="124.80" cy="188.20" r="2.2" fill="#56bff3"/>
<text x="135.00" y="191.20" font-size="8.3" font-weight="normal" text-anchor="start" fill="#1c1c1c" textLength="56.60" lengthAdjust="spacingAndGlyphs" stroke="#1c1c1c" stroke-width="0.15">Vitreous PEG/F2</text>
<polyline points="46.40,272.60 47.24,272.00 49.75,271.50 51.42,271.00 86.60,265.60 187.10,253.00" fill="none" stroke="#56bff3" stroke-width="0.95" stroke-dasharray="3.6 2.2"/>
<polyline points="46.40,273.00 47.24,272.60 49.75,272.00 51.42,271.40 86.60,267.70 187.10,269.10" fill="none" stroke="#56bff3" stroke-width="1.05"/>
<polygon points="44.20,274.73 48.60,274.73 46.40,270.47" fill="#56bff3"/>
<polygon points="45.04,274.13 49.44,274.13 47.24,269.87" fill="#56bff3"/>
<polygon points="47.55,273.63 51.95,273.63 49.75,269.37" fill="#56bff3"/>
<polygon points="49.22,273.13 53.62,273.13 51.42,268.87" fill="#56bff3"/>
<polygon points="84.40,267.73 88.80,267.73 86.60,263.47" fill="#56bff3"/>
<polygon points="184.90,255.13 189.30,255.13 187.10,250.87" fill="#56bff3"/>
<circle cx="46.40" cy="273.00" r="2.3" fill="#56bff3"/>
<circle cx="47.24" cy="272.60" r="2.3" fill="#56bff3"/>
<circle cx="49.75" cy="272.00" r="2.3" fill="#56bff3"/>
<circle cx="51.42" cy="271.40" r="2.3" fill="#56bff3"/>
<circle cx="86.60" cy="267.70" r="2.3" fill="#56bff3"/>
<circle cx="187.10" cy="269.10" r="2.3" fill="#56bff3"/>
<polyline points="46.40,265.40 47.24,264.70 51.42,262.00 86.60,212.90 187.10,196.40" fill="none" stroke="#5ce65c" stroke-width="0.95" stroke-dasharray="3.6 2.2"/>
<polyline points="46.65,248.60 48.24,246.10 51.01,255.40 86.60,233.60 187.10,247.20" fill="none" stroke="#5ce65c" stroke-width="1.05"/>
<circle cx="46.82" cy="250.00" r="2.3" fill="#5ce65c"/>
<polygon points="44.20,267.53 48.60,267.53 46.40,263.27" fill="#5ce65c"/>
<polygon points="45.04,266.83 49.44,266.83 47.24,262.57" fill="#5ce65c"/>
<polygon points="49.22,264.13 53.62,264.13 51.42,259.87" fill="#5ce65c"/>
<polygon points="84.40,215.03 88.80,215.03 86.60,210.77" fill="#5ce65c"/>
<polygon points="184.90,198.53 189.30,198.53 187.10,194.27" fill="#5ce65c"/>
<circle cx="46.65" cy="248.60" r="2.3" fill="#5ce65c"/>
<circle cx="48.24" cy="246.10" r="2.3" fill="#5ce65c"/>
<circle cx="51.01" cy="255.40" r="2.3" fill="#5ce65c"/>
<circle cx="86.60" cy="233.60" r="2.3" fill="#5ce65c"/>
<circle cx="187.10" cy="247.20" r="2.3" fill="#5ce65c"/>
</svg>
</body></html>
